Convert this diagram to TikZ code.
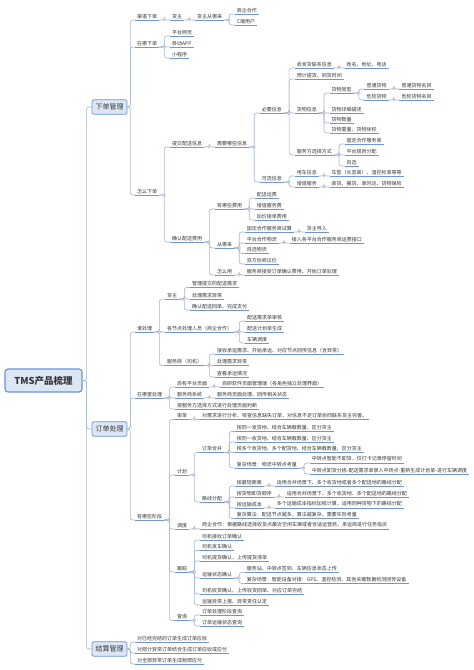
\documentclass[tikz,border=0pt]{standalone}
\usepackage{fontspec}
\newfontfamily\cjk{Noto Sans CJK SC}
\usetikzlibrary{calc}
\definecolor{txt}{HTML}{363636}
\definecolor{ul}{HTML}{6E96D2}
\definecolor{cn}{HTML}{A3B6D3}
\definecolor{boxfill}{HTML}{DCE6F4}
\definecolor{boxline}{HTML}{6A95D2}
\tikzset{
  leaf/.style={anchor=south west, inner xsep=2pt, inner ysep=1.3pt,
    font=\cjk\fontsize{5pt}{6pt}\selectfont, text=txt},
  uline/.style={draw=ul, line width=0.9pt},
  conn/.style={draw=cn, line width=0.6pt, rounded corners=2.5pt},
  knot/.style={draw=gray!55, fill=white, line width=0.35pt},
  lvlbox/.style={draw=boxline, fill=boxfill, rounded corners=2pt, line width=0.7pt,
    minimum width=35pt, minimum height=14.5pt, inner sep=1pt,
    font=\cjk\fontsize{7pt}{8pt}\selectfont, text=txt},
  rootbox/.style={draw=boxline, fill=boxfill, rounded corners=3pt, line width=1.1pt,
    minimum width=77pt, minimum height=23pt, inner sep=1pt,
    font=\cjk\bfseries\fontsize{9.5pt}{11pt}\selectfont, text=txt}
}
\newcommand\mmkid[4]{%
  \path (#2.south east) ++(10.5,0) coordinate (tmp);
  \node[leaf] (#1) at (tmp |- 0,#3) {#4};
  \draw[conn] (#2.south east) -- ++(5,0) |- (#1.south west);
  \draw[uline] (#1.south west) -- (#1.south east);
  \filldraw[knot] ($(#2.south east)+(5,0)$) circle (1.1pt);
}
\newcommand\mmtop[4]{%
  \node[leaf] (#1) at (135,#3) {#4};
  \draw[conn] (#2.east) -- ++(3,0) |- (#1.south west);
  \draw[uline] (#1.south west) -- (#1.south east);
}
\begin{document}
\begin{tikzpicture}[x=1pt,y=-1pt]
\fill[white] (0,0) rectangle (474,670);
\useasboundingbox (0,0) rectangle (474,670);

\node[rootbox] (R) at (43.5,380.5) {TMS产品梳理};
\node[lvlbox] (A) at (109.5,107) {下单管理};
\node[lvlbox] (B) at (109.5,429) {订单处理};
\node[lvlbox] (C) at (109.5,649) {结算管理};
\draw[conn] (R.east) -- ++(4,0) |- (A.west);
\draw[conn] (R.east) -- ++(4,0) |- (B.west);
\draw[conn] (R.east) -- ++(4,0) |- (C.west);

% 下单管理
\mmtop{a1}{A}{20}{渠道下单}
\mmkid{a11}{a1}{20}{货主}
\mmkid{a111}{a11}{20}{货主从哪来}
\mmkid{a1111}{a111}{14}{商企合作}
\mmkid{a1112}{a111}{25}{C端用户}
\mmtop{a2}{A}{47}{在哪下单}
\mmkid{a21}{a2}{36}{平台网页}
\mmkid{a22}{a2}{47}{移动APP}
\mmkid{a23}{a2}{58}{小程序}
\mmtop{a3}{A}{195}{怎么下单}
\mmkid{a31}{a3}{147}{提交配送信息}
\mmkid{a311}{a31}{147}{需要哪些信息}
\mmkid{n1}{a311}{113}{必要信息}
\mmkid{n11}{n1}{68}{收发货联系信息}
\mmkid{n111}{n11}{68}{姓名、地址、电话}
\mmkid{n12}{n1}{79}{预计提货、到货时间}
\mmkid{n13}{n1}{113}{货物信息}
\mmkid{n131}{n13}{93}{货物类型}
\mmkid{n1311}{n131}{89}{普通货物}
\mmkid{n13111}{n1311}{89}{普通货物名目}
\mmkid{n1312}{n131}{100}{危险货物}
\mmkid{n13121}{n1312}{100}{危险货物名目}
\mmkid{n132}{n13}{113}{货物详细描述}
\mmkid{n133}{n13}{123}{货物数量}
\mmkid{n134}{n13}{133}{货物重量、货物体积}
\mmkid{n14}{n1}{155}{服务方选择方式}
\mmkid{n141}{n14}{144}{固定合作服务商}
\mmkid{n142}{n14}{155}{平台规则分配}
\mmkid{n143}{n14}{166}{自选}
\mmkid{n2}{a311}{182}{可选信息}
\mmkid{n21}{n2}{176}{用车信息}
\mmkid{n211}{n21}{176}{车型（长宽高）、温控标准等等}
\mmkid{n22}{n2}{187}{增值服务}
\mmkid{n221}{n22}{187}{装货、搬货、准时达、货物保险}
\mmkid{a32}{a3}{242}{确认配送费用}
\mmkid{f1}{a32}{209}{有哪些费用}
\mmkid{f11}{f1}{198}{配送运费}
\mmkid{f12}{f1}{209}{增值服务费}
\mmkid{f13}{f1}{220}{加价接单费用}
\mmkid{f2}{a32}{248}{从哪来}
\mmkid{f21}{f2}{232}{固定合作服务商试算}
\mmkid{f211}{f21}{232}{货主导入}
\mmkid{f22}{f2}{243}{平台合作物流}
\mmkid{f221}{f22}{243}{接入各平台合作服务商运费接口}
\mmkid{f23}{f2}{253.5}{自选物流}
\mmkid{f24}{f2}{264}{双方协商议价}
\mmkid{f3}{a32}{275}{怎么用}
\mmkid{f31}{f3}{275}{服务商接受订单确认费用、开始订单处理}

% 订单处理
\mmtop{b1}{B}{332}{谁处理}
\mmkid{b11}{b1}{299}{货主}
\mmkid{b111}{b11}{287.5}{管理提交的配送需求}
\mmkid{b112}{b11}{299}{处理需求异常}
\mmkid{b113}{b11}{310}{确认配送回单、完成支付}
\mmkid{b12}{b1}{332}{各节点处理人员（商企合作）}
\mmkid{b121}{b12}{321}{配送需求单审核}
\mmkid{b122}{b12}{332}{配送计划单生成}
\mmkid{b123}{b12}{343}{车辆调度}
\mmkid{b13}{b1}{365.5}{服务商（司机）}
\mmkid{b131}{b13}{354}{接收承运需求、开始承运、对应节点回传信息（含异常）}
\mmkid{b132}{b13}{365.5}{处理需求异常}
\mmkid{b133}{b13}{377}{查看承运情况}
\mmtop{b2}{B}{398}{在哪里处理}
\mmkid{b21}{b2}{387}{自有平台页面}
\mmkid{b211}{b21}{387}{自研软件页面管理端（各角色独立处理界面）}
\mmkid{b22}{b2}{398}{服务商系统}
\mmkid{b221}{b22}{398}{服务商页面处理、回传相关状态}
\mmkid{b23}{b2}{409}{按服务方选择方式进行处理页面判断}
\mmtop{b3}{B}{520}{有哪些阶段}
\mmkid{s1}{b3}{419.5}{审单}
\mmkid{s11}{s1}{419.5}{对需求进行分析、核查信息缺失订单，对信息不足订单协同联系货主完善。}
\mmkid{s2}{b3}{475}{计划}
\mmkid{p1}{s2}{452.5}{订单合并}
\mmkid{p11}{p1}{431.5}{按同一发货地、结合车辆载数量、区分货主}
\mmkid{p12}{p1}{442}{按同一收货地、结合车辆载数量、区分货主}
\mmkid{p13}{p1}{452.5}{按多个收货地、多个配货地、结合车辆载数量、区分货主}
\mmkid{p14}{p1}{468}{复杂场景：物流中转点考量}
\mmkid{p141}{p14}{463}{中转点智能不卸货，仅打卡记录停留时间}
\mmkid{p142}{p14}{474}{中转点卸货分拣-配送需求单录入中转点-重新生成计划单-进行车辆调度}
\mmkid{p2}{s2}{502}{路线分配}
\mmkid{p21}{p2}{486}{按最短距离}
\mmkid{p211}{p21}{486}{适用合并场景下、多个收货地或者多个配送地的路线分配}
\mmkid{p22}{p2}{497}{按货物卸货顺序}
\mmkid{p221}{p22}{497}{适用合并场景下、多个收货地、多个配送地的路线分配}
\mmkid{p23}{p2}{508}{按运输成本}
\mmkid{p231}{p23}{508}{多个运输成本指标加权计算，适用同种货物下的路线分配}
\mmkid{p24}{p2}{518.5}{复杂算法：配送节点越多，算法越复杂，需要实际考量}
\mmkid{s3}{b3}{529}{调度}
\mmkid{s31}{s3}{529}{商企合作：根据路线选择收货点最近空闲车辆或者合适运营商，承运商进行任务指派}
\mmkid{s4}{b3}{572}{跟踪}
\mmkid{t1}{s4}{540}{司机接收订单确认}
\mmkid{t2}{s4}{550.5}{司机发车确认}
\mmkid{t3}{s4}{561}{司机提货确认、上传提货清单}
\mmkid{t4}{s4}{578}{运输状态确认}
\mmkid{t41}{t4}{572.5}{服务站、中转点签到、车辆信息状态上传}
\mmkid{t42}{t4}{583.5}{复杂场景：智能设备对接：GPS、温控检测、其他关键数据检测回传设备}
\mmkid{t5}{s4}{594}{司机收货确认、上传收货回单、对应订单完结}
\mmkid{t6}{s4}{605}{运输异常上报、异常责任认定}
\mmkid{s5}{b3}{620.5}{查询}
\mmkid{q1}{s5}{615}{订单处理阶段查询}
\mmkid{q2}{s5}{626}{订单运输状态查询}

% 结算管理
\mmtop{c1}{C}{642}{对已经完结的订单生成订单应收}
\mmtop{c2}{C}{653}{对部分异常订单结合生成订单应收或应付}
\mmtop{c3}{C}{664}{对全部异常订单生成赔偿应付}
\end{tikzpicture}
\end{document}
